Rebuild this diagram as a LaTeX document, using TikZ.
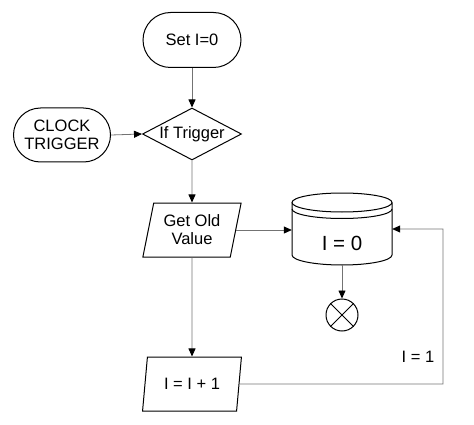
\documentclass[tikz,border=0pt]{standalone}
\usepackage{fontspec}
\setmainfont{Liberation Sans}
\usetikzlibrary{shapes.misc,shapes.geometric,arrows.meta}
\definecolor{conncol}{RGB}{115,115,115}
\begin{document}
\begin{tikzpicture}[x=1pt,y=-1pt,
  every node/.style={font=\fontsize{16.5pt}{18pt}\selectfont, align=center},
  shapeline/.style={draw=black, line width=1pt},
  stadium/.style={shapeline, rounded rectangle, minimum width=98pt, minimum height=55pt, inner sep=0pt},
  decision/.style={shapeline, diamond, aspect=1.9, minimum width=99pt, minimum height=52pt, inner sep=0pt},
  iobox/.style={shapeline, trapezium, trapezium left angle=75, trapezium right angle=105, trapezium stretches=true, minimum width=99pt, minimum height=54pt, inner sep=0pt},
  conn/.style={draw=conncol, line width=0.8pt, -{Triangle[length=8pt,width=7pt,color=black]}}
]
\useasboundingbox (0,0) rectangle (474,425);

\node[stadium] (start) at (192,40) {Set I=0};
\node[stadium, minimum width=97pt, minimum height=54pt] (clock) at (62,135) {CLOCK\\TRIGGER};
\node[decision] (dec) at (192,134) {If Trigger};
\node[iobox] (getold) at (192,230) {Get Old\\Value};
\node[iobox] (inc) at (192,384) {I = I + 1};

% cylinder (data store)
\node[minimum width=100pt, minimum height=72pt, inner sep=0pt] (db) at (342,229) {};
\draw[shapeline] (292,202.5) -- (292,255) arc[start angle=180, end angle=0, x radius=50, y radius=10] -- (392,202.5);
\draw[shapeline] (342,202.5) ellipse[x radius=50, y radius=9.5];
\draw[shapeline] (292,209) arc[start angle=180, end angle=0, x radius=50, y radius=9.5];
\node[font=\fontsize{20.5pt}{22pt}\selectfont] (dbtext) at (342,243) {I = 0};

\node[shapeline, circle, minimum size=32pt, inner sep=0pt] (term) at (342,315) {};
\draw[shapeline] (term.north west) -- (term.south east);
\draw[shapeline] (term.north east) -- (term.south west);

\coordinate (loopx) at (443,384);

\draw[conn] (start.south) -- (dec.north);
\draw[conn] (clock.east) -- (dec.west);
\draw[conn] (dec.south) -- (getold.north);
\draw[conn] (getold.east) -- (getold.east -| db.west);
\draw[conn] (getold.south) -- (inc.north);
\draw[conn] (db.south) -- (term.north);
\draw[conn] (inc.east) -- (loopx) |- (db.east);

\node (lbl) at (418,357) {I = 1};
\end{tikzpicture}
\end{document}
